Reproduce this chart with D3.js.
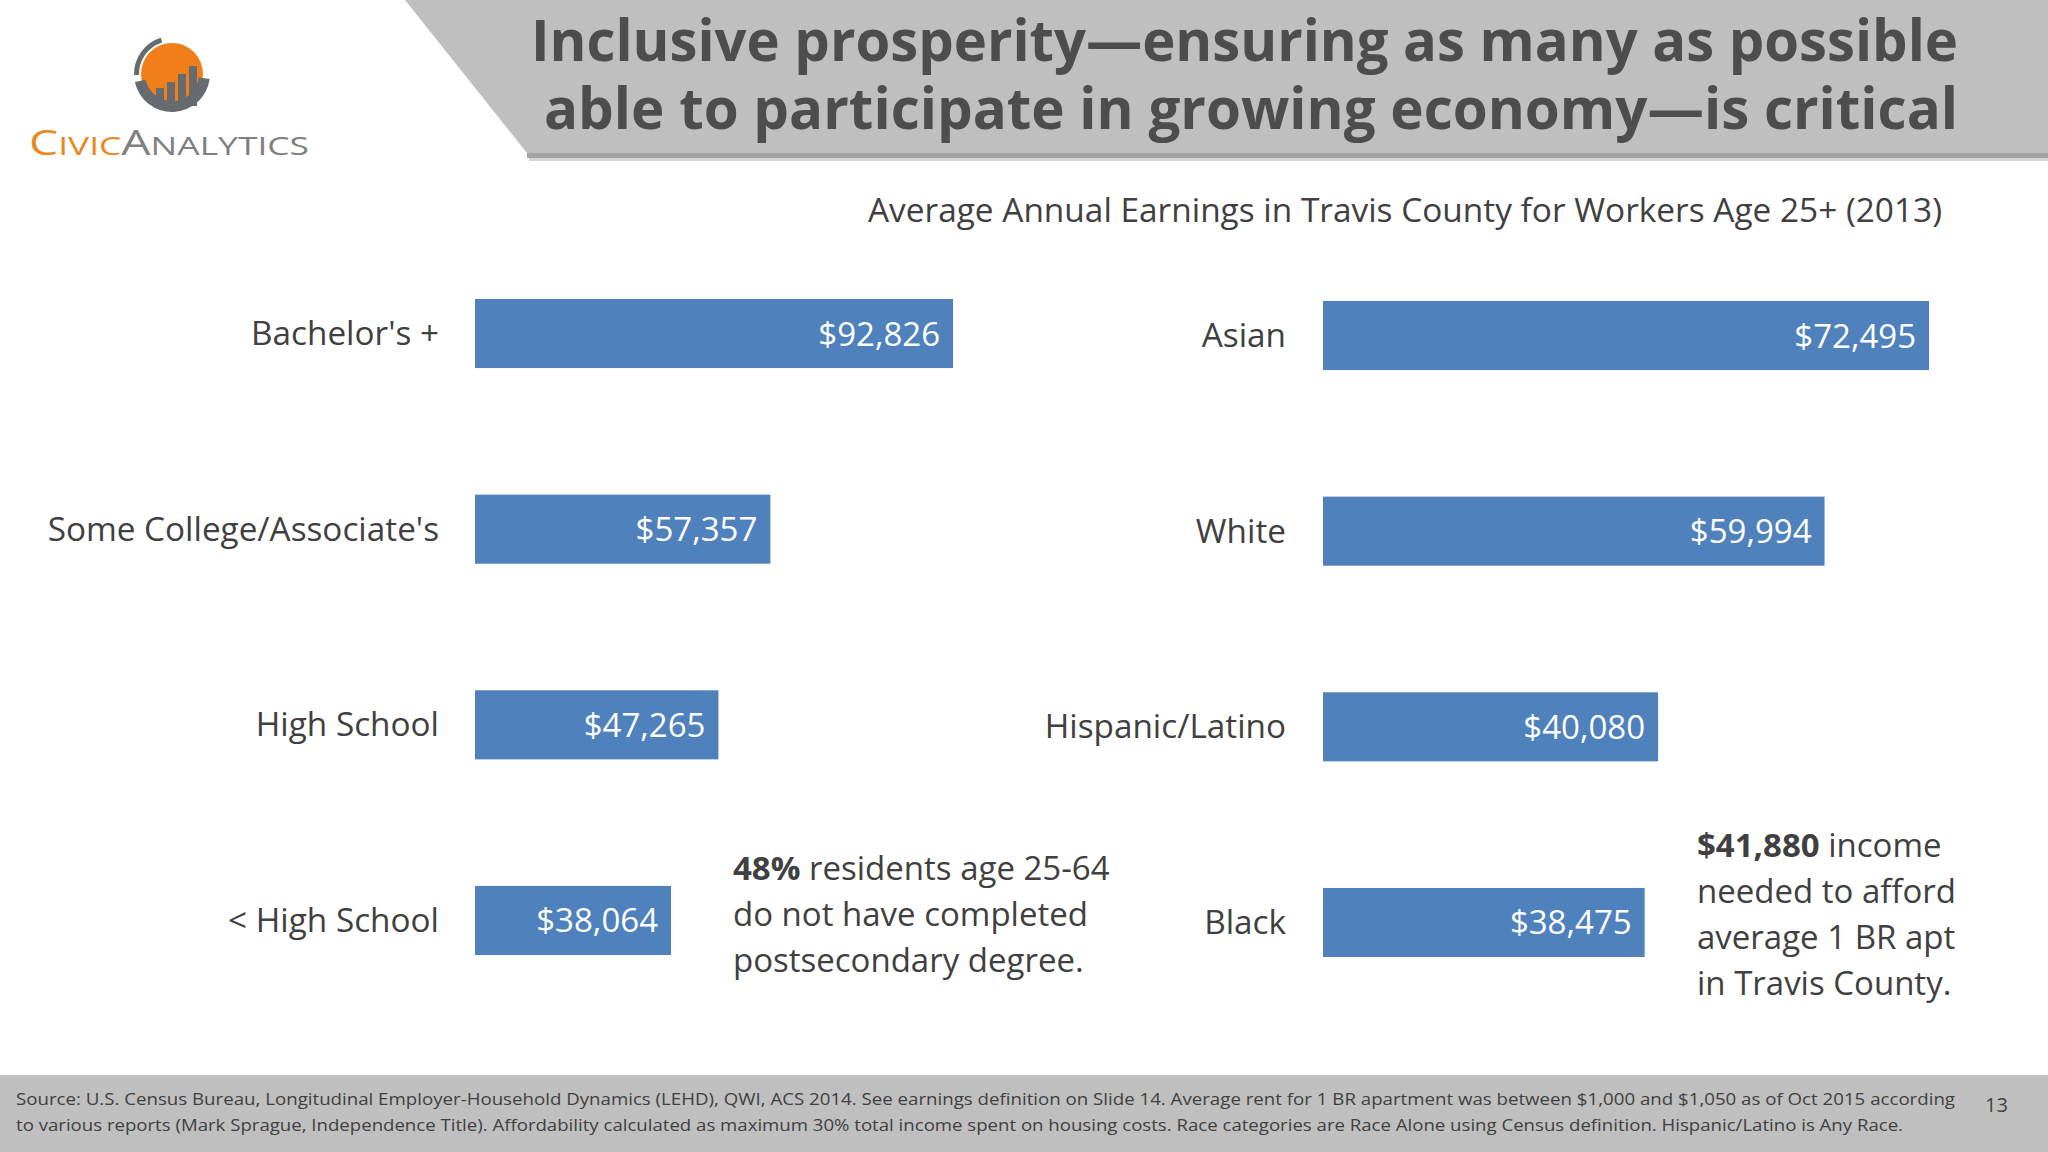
<!DOCTYPE html>
<html>
<head>
<meta charset="utf-8">
<script src="https://cdn.jsdelivr.net/npm/d3@7"></script>
<style>
  html, body { margin: 0; padding: 0; background: #fff; }
  svg { display: block; font-family: "Open Sans", "Noto Sans", sans-serif; }
</style>
</head>
<body>
<div id="chart"></div>
<script>
// data
const eduCategories = ["Bachelor's +", "Some College/Associate's", "High School", "< High School"];
const eduValues = [92826, 57357, 47265, 38064];
const raceCategories = ["Asian", "White", "Hispanic/Latino", "Black"];
const raceValues = [72495, 59994, 40080, 38475];

const titleLines = [
  "Inclusive prosperity\u2014ensuring as many as possible",
  "able to participate in growing economy\u2014is critical"
];
const subtitle = "Average Annual Earnings in Travis County for Workers Age 25+ (2013)";
const footnote = [
  "Source: U.S. Census Bureau, Longitudinal Employer-Household Dynamics (LEHD), QWI, ACS 2014. See earnings definition on Slide 14. Average rent for 1 BR apartment was between $1,000 and $1,050 as of Oct 2015 according",
  "to various reports (Mark Sprague, Independence Title). Affordability calculated as maximum 30% total income spent on housing costs. Race categories are Race Alone using Census definition. Hispanic/Latino is Any Race."
];

const width = 2048;
const height = 1152;
const textColor = "#404040";
const barColor = "#4f81bd";
const fmt = d3.format("$,");

const svg = d3.select("#chart")
  .append("svg")
  .attr("width", width)
  .attr("height", height);

svg.append("rect").attr("width", width).attr("height", height).attr("fill", "#fff");

// title banner
svg.append("rect")
  .attr("x", 527).attr("y", 153).attr("width", width - 527).attr("height", 5)
  .attr("fill", "#a3a3a3");
svg.append("rect")
  .attr("x", 529).attr("y", 158).attr("width", width - 529).attr("height", 3)
  .attr("fill", "#d6d6d6");
svg.append("polygon")
  .attr("points", "405,0 2048,0 2048,153 527,153")
  .attr("fill", "#bfbfbf");

// one text element, two lines
const title = svg.append("text")
  .attr("font-weight", 700)
  .attr("font-size", 57)
  .attr("fill", "#4d4d4d")
  .attr("text-anchor", "end");
titleLines.forEach((t, i) => {
  title.append("tspan")
    .attr("x", 1958)
    .attr("y", 61 + i * 68)
    .attr("textLength", i === 0 ? 1427 : 1414)
    .attr("lengthAdjust", "spacingAndGlyphs")
    .text(t);
});

// logo
const logo = svg.append("g").attr("transform", "translate(172,74)");
const logoGray = "#666b70";
logo.append("circle").attr("r", 31).attr("fill", "#f07f1a");
const arc = d3.arc();
logo.append("path")
  .attr("d", arc({ innerRadius: 33, outerRadius: 38, startAngle: -1.6, endAngle: -0.3 }))
  .attr("fill", logoGray);
logo.append("path")
  .attr("d", arc({ innerRadius: 27, outerRadius: 38, startAngle: 1.7, endAngle: 4.5 }))
  .attr("fill", logoGray);
[[-16, 14], [-5, 8], [6, 0], [17, -8]].forEach(([bx, top]) => {
  logo.append("rect")
    .attr("x", bx).attr("y", top).attr("width", 8).attr("height", 32 - top)
    .attr("fill", logoGray);
});

const logoText = svg.append("text")
  .attr("x", 29).attr("y", 155)
  .attr("textLength", 280)
  .attr("lengthAdjust", "spacingAndGlyphs");
logoText.append("tspan").attr("fill", "#e8891e").attr("font-size", 34).text("C");
logoText.append("tspan").attr("fill", "#e8891e").attr("font-size", 26).text("IVIC");
logoText.append("tspan").attr("fill", "#808080").attr("font-size", 34).text("A");
logoText.append("tspan").attr("fill", "#808080").attr("font-size", 26).text("NALYTICS");

// subtitle
svg.append("text")
  .attr("x", 1942).attr("y", 222)
  .attr("text-anchor", "end")
  .attr("font-size", 33.4)
  .attr("fill", textColor)
  .text(subtitle);

// bar chart panel
function drawPanel(cats, vals, opt) {
  const x = d3.scaleLinear().domain([0, 100000]).range([opt.x0, opt.x0 + opt.pxPer100k]);
  const y = d3.scaleBand().domain(cats).range(opt.yRange).paddingInner(0.647).paddingOuter(0);
  const data = cats.map((c, i) => ({ cat: c, value: vals[i] }));
  const g = svg.append("g");

  g.selectAll("rect.bar")
    .data(data)
    .join("rect")
    .attr("class", "bar")
    .attr("x", x(0))
    .attr("y", d => y(d.cat))
    .attr("width", d => x(d.value) - x(0))
    .attr("height", y.bandwidth())
    .attr("fill", barColor);

  g.selectAll("text.value")
    .data(data)
    .join("text")
    .attr("class", "value")
    .attr("x", d => x(d.value) - 13)
    .attr("y", d => y(d.cat) + y.bandwidth() / 2 + 12)
    .attr("text-anchor", "end")
    .attr("font-size", 33)
    .attr("fill", "#fff")
    .text(d => fmt(d.value));

  // category axis, drawn without domain/ticks
  const axis = g.append("g")
    .attr("transform", `translate(${opt.labelX},0)`)
    .call(d3.axisLeft(y).tickSize(0).tickPadding(0));
  axis.attr("font-family", null).attr("font-size", null);
  axis.select(".domain").remove();
  axis.selectAll("text")
    .attr("font-size", 33.3)
    .attr("fill", textColor)
    .attr("dy", "0.34em");
}

drawPanel(eduCategories, eduValues, { x0: 475, pxPer100k: 515, yRange: [299, 955], labelX: 439 });
drawPanel(raceCategories, raceValues, { x0: 1323, pxPer100k: 836, yRange: [301, 957], labelX: 1286 });

// annotations
function note(x, y0, lines) {
  const t = svg.append("text").attr("x", x).attr("font-size", 33).attr("fill", textColor);
  lines.forEach((parts, i) => {
    parts.forEach((p, j) => {
      const s = t.append("tspan").text(p.text);
      if (j === 0) s.attr("x", x).attr("y", y0 + i * 46);
      if (p.bold) s.attr("font-weight", 700);
    });
  });
}
note(733, 880, [
  [{ text: "48%", bold: true }, { text: " residents age 25-64" }],
  [{ text: "do not have completed" }],
  [{ text: "postsecondary degree." }]
]);
note(1697, 857, [
  [{ text: "$41,880", bold: true }, { text: " income" }],
  [{ text: "needed to afford" }],
  [{ text: "average 1 BR apt" }],
  [{ text: "in Travis County." }]
]);

// footer
svg.append("rect")
  .attr("x", 0).attr("y", 1075).attr("width", width).attr("height", height - 1075)
  .attr("fill", "#bfbfbf");
footnote.forEach((t, i) => {
  svg.append("text")
    .attr("x", 16).attr("y", 1105 + i * 26)
    .attr("font-size", 17)
    .attr("fill", textColor)
    .attr("textLength", i === 0 ? 1939 : 1887)
    .attr("lengthAdjust", "spacingAndGlyphs")
    .text(t);
});
svg.append("text")
  .attr("x", 1985).attr("y", 1112)
  .attr("font-size", 20)
  .attr("fill", textColor)
  .text("13");
</script>
</body>
</html>
